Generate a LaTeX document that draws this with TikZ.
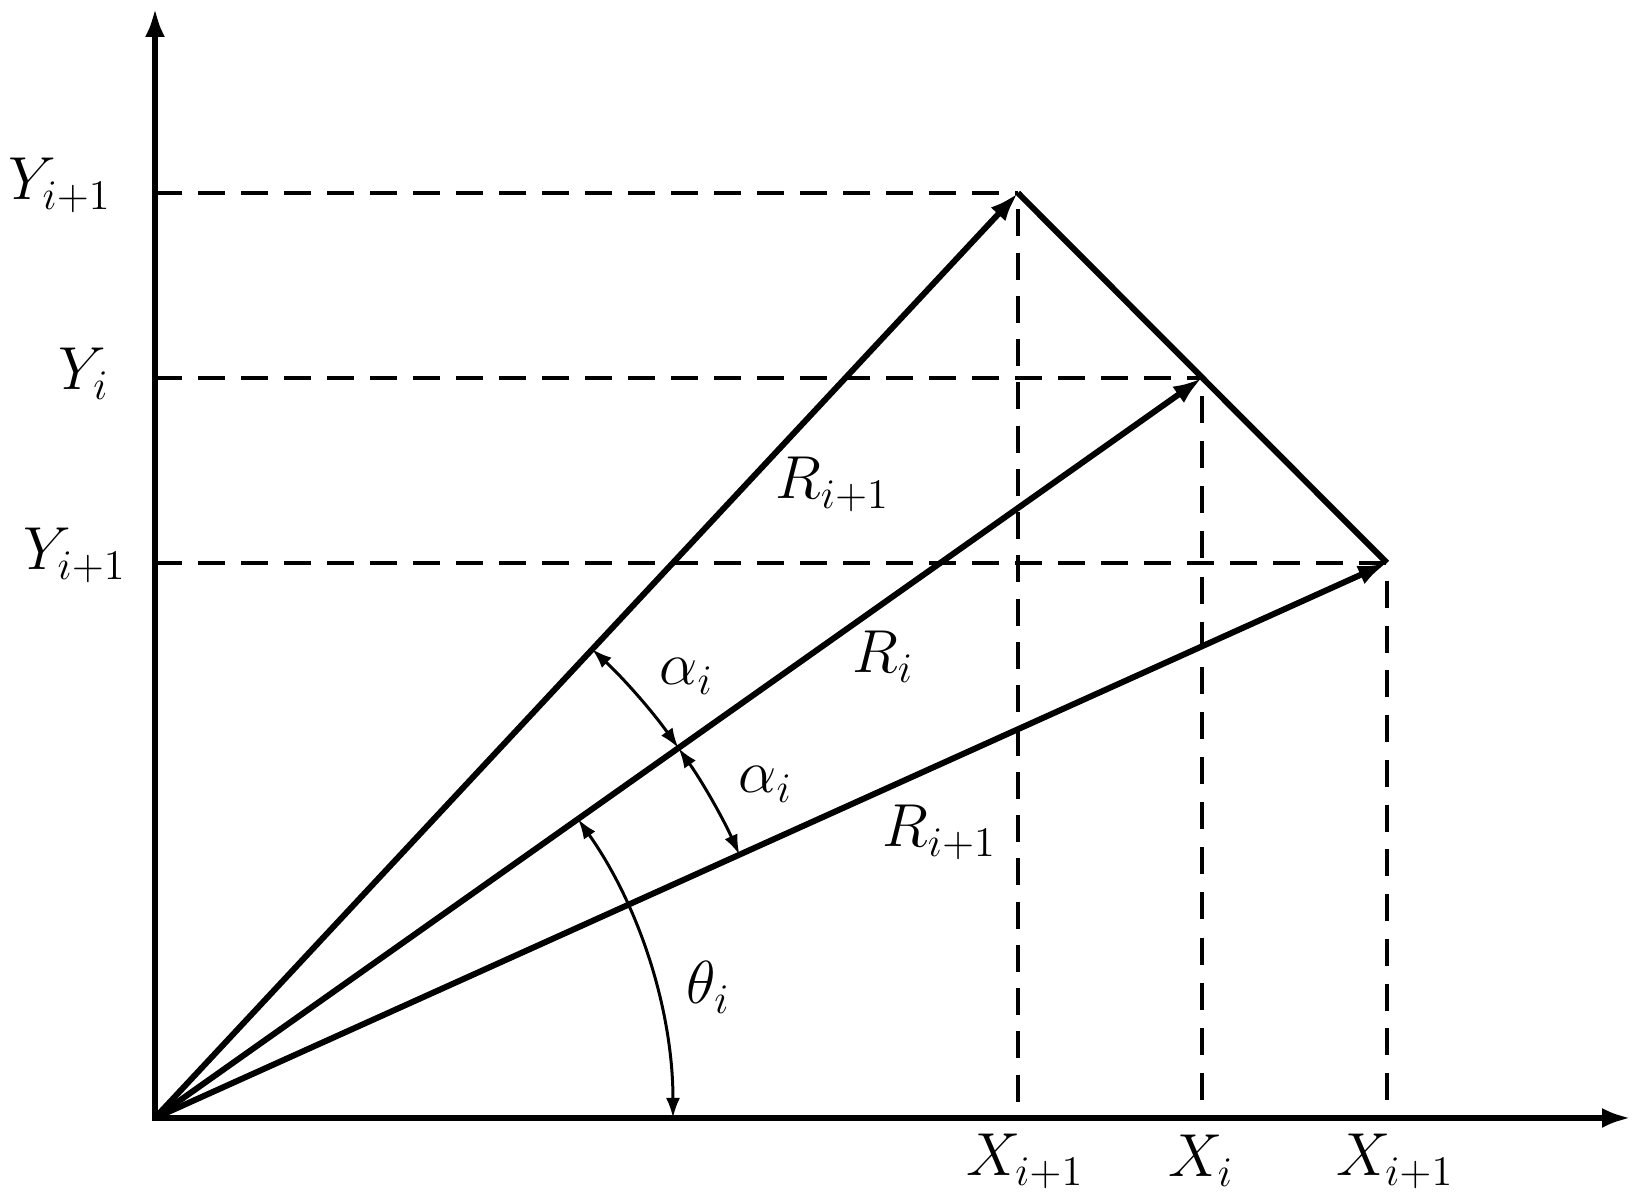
\documentclass[tikz,border=0pt]{standalone}
\usepackage{amsmath}
\usepackage{tikz}
\usetikzlibrary{arrows.meta}
\usetikzlibrary{decorations}
\usetikzlibrary{positioning}
\usetikzlibrary{calc}

\tikzset{
  axis/.style={line width=1.7pt, {Latex[length=0.29cm,width=0.2cm]}-{Latex[length=0.29cm,width=0.2cm]}},
  vec/.style={line width=1.7pt, -{Latex[length=0.29cm,width=0.2cm]}},
  guide/.style={line width=1.15pt, dash pattern=on 0.27cm off 0.16cm},
  vguide/.style={guide, dash expand off},
  angarc/.style={line width=0.85pt, {Latex[length=0.2cm,width=0.14cm]}-{Latex[length=0.2cm,width=0.14cm]}},
  lbl/.style={inner sep=0pt, anchor=base west}
}

\begin{document}
\begin{tikzpicture}

\fontsize{17.2}{20}\selectfont
\useasboundingbox (-1.55,-0.84) rectangle (14.95,11.18);

\coordinate (O) at (0,0);
\coordinate (xend) at (14.76,0);
\coordinate (yend) at (0,11.10);
\coordinate (A) at (8.63,9.25);
\coordinate (B) at (10.47,7.40);
\coordinate (C) at (12.32,5.55);

% axes
\draw[axis] (yend) -- (O) -- (xend);

% projections
\foreach \p in {A, B, C}
{
\coordinate (\p y) at (O |- \p);
\coordinate (\p x) at (\p |- O);
\draw[guide] (\p y) -- (\p);
\draw[vguide] (\p) -- (\p x);
}

% vectors
\draw[vec] (O) -- (A);
\draw[vec] (O) -- (B);
\draw[vec] (O) -- (C);
\draw[line width=1.7pt] (A) -- (C);

% angles
\draw[angarc] (0:5.18) arc (0:35.25:5.18);
\draw[angarc] (24.25:6.41) arc (24.25:35.25:6.41);
\draw[angarc] (35.25:6.41) arc (35.25:47.02:6.41);

% labels
\node[inner sep=0pt, anchor=base east] (yA) at (-0.43,9.18) {$Y_{i+1}$};
\node[inner sep=0pt, anchor=base east] (yB) at (-0.45,7.28) {$Y_i$};
\node[inner sep=0pt, anchor=base east] (yC) at (-0.28,5.48) {$Y_{i+1}$};

\node[inner sep=0pt, anchor=base] (xA) at (8.70,-0.58) {$X_{i+1}$};
\node[inner sep=0pt, anchor=base] (xB) at (10.46,-0.59) {$X_i$};
\node[inner sep=0pt, anchor=base] (xC) at (12.40,-0.58) {$X_{i+1}$};

\node[lbl] (rA) at (6.20,6.19) {$R_{i+1}$};
\node[lbl] (rB) at (6.97,4.45) {$R_i$};
\node[lbl] (rC) at (7.27,2.71) {$R_{i+1}$};

\node[lbl] (alphaAB) at (5.04,4.33) {$\alpha_i$};
\node[lbl] (alphaBC) at (5.83,3.25) {$\alpha_i$};
\node[lbl] (theta) at (5.31,1.14) {$\theta_i$};

\end{tikzpicture}
\end{document}
